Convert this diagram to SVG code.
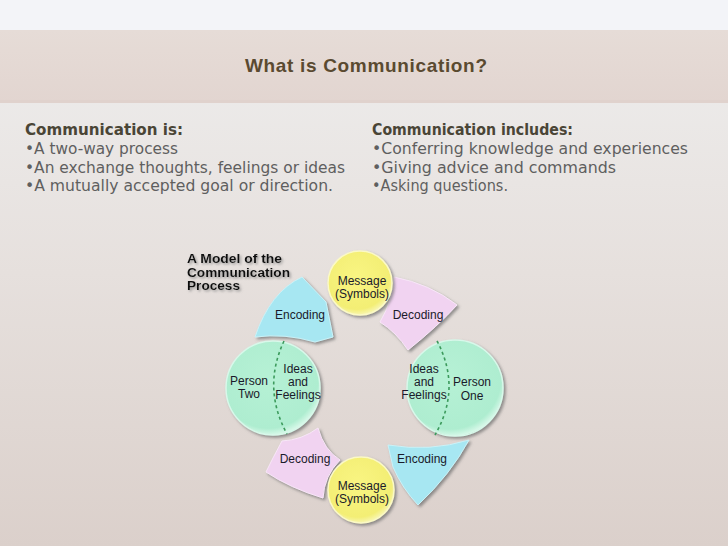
<svg xmlns="http://www.w3.org/2000/svg" width="728" height="546" viewBox="0 0 728 546">
<defs>
<linearGradient id="bg" x1="0" y1="0" x2="0" y2="1">
<stop offset="0" stop-color="#efefef"/>
<stop offset="0.5" stop-color="#e6e0dd"/>
<stop offset="1" stop-color="#dbd0cb"/>
</linearGradient>
<linearGradient id="band" x1="0" y1="0" x2="0" y2="1">
<stop offset="0" stop-color="#e6dcd7"/>
<stop offset="1" stop-color="#e2d5d0"/>
</linearGradient>
<radialGradient id="yel" cx="0.45" cy="0.4" r="0.6">
<stop offset="0" stop-color="#f9f582"/>
<stop offset="0.85" stop-color="#f3ee74"/>
<stop offset="1" stop-color="#f8f6b0"/>
</radialGradient>
<radialGradient id="mint" cx="0.45" cy="0.4" r="0.6">
<stop offset="0" stop-color="#b6f1d5"/>
<stop offset="0.88" stop-color="#aeedd0"/>
<stop offset="1" stop-color="#d6f8e8"/>
</radialGradient>
<filter id="sh" x="-20%" y="-20%" width="150%" height="150%">
<feDropShadow dx="2" dy="2" stdDeviation="1.6" flood-color="#6a6a6a" flood-opacity="0.7"/>
</filter>
<filter id="tsh" x="-10%" y="-10%" width="130%" height="140%">
<feDropShadow dx="1.5" dy="1.5" stdDeviation="0.8" flood-color="#888" flood-opacity="0.8"/>
</filter>
</defs>
<style>
.h{font-family:"DejaVu Sans","Liberation Sans",sans-serif;font-weight:bold;font-size:15px;fill:#4a4536}
.b{font-family:"DejaVu Sans","Liberation Sans",sans-serif;font-size:15px;fill:#5f5f5f}
.d{font-family:"Liberation Sans",Arial,sans-serif;font-size:12px;fill:#1a1a2a;text-anchor:middle}
.m{font-family:"Liberation Sans",Arial,sans-serif;font-weight:bold;font-size:12.5px;fill:#111}
.enc{fill:#a7e7f2;stroke:#c9f2f8;stroke-width:1}
.dec{fill:#f1d3f1;stroke:#f8e6f8;stroke-width:1}
.dash{fill:none;stroke:#3c9a5c;stroke-width:1.6;stroke-dasharray:3 3}
</style>

<rect x="0" y="0" width="728" height="546" fill="url(#bg)"/>
<rect x="0" y="0" width="728" height="30" fill="#f3f4f8"/>
<g id="header">
<rect x="0" y="30" width="728" height="73" fill="url(#band)"/>
<rect x="0" y="100" width="728" height="3" fill="#e0d2cd"/>
<text x="366" y="72" text-anchor="middle" font-family="Liberation Sans, Arial, sans-serif" font-weight="bold" font-size="19" fill="#5a4a30" textLength="242" lengthAdjust="spacing">What is Communication?</text>
</g>

<g id="text-left">
<text class="h" x="25" y="135" textLength="158" lengthAdjust="spacingAndGlyphs">Communication is:</text>
<text class="b" x="25" y="154" textLength="153" lengthAdjust="spacingAndGlyphs">•A two-way process</text>
<text class="b" x="25" y="172.5" textLength="320" lengthAdjust="spacingAndGlyphs">•An exchange thoughts, feelings or ideas</text>
<text class="b" x="25" y="191" textLength="308" lengthAdjust="spacingAndGlyphs">•A mutually accepted goal or direction.</text>
</g>

<g id="text-right">
<text class="h" x="372" y="135" textLength="201" lengthAdjust="spacingAndGlyphs">Communication includes:</text>
<text class="b" x="372" y="154" textLength="316" lengthAdjust="spacingAndGlyphs">•Conferring knowledge and experiences</text>
<text class="b" x="372" y="172.5" textLength="244" lengthAdjust="spacingAndGlyphs">•Giving advice and commands</text>
<text class="b" x="372" y="191" textLength="136" lengthAdjust="spacingAndGlyphs">•Asking questions.</text>
</g>

<g id="model-title" filter="url(#tsh)">
<text class="m" x="187" y="263" textLength="95" lengthAdjust="spacingAndGlyphs">A Model of the</text>
<text class="m" x="187" y="276.5" textLength="103" lengthAdjust="spacingAndGlyphs">Communication</text>
<text class="m" x="187" y="290" textLength="53" lengthAdjust="spacingAndGlyphs">Process</text>
</g>

<g id="connectors">
<g id="encoding-top">
<path class="enc" filter="url(#sh)" d="M255,337 Q270,292 302,277 L326,302 L333,337 L315,342 Q285,333 255,337 Z"/>
<text class="d" x="300" y="319">Encoding</text>
</g>
<g id="decoding-top">
<path class="dec" filter="url(#sh)" d="M394,277 Q430,284 457,305 Q438,326 408,350 Q396,332 380,322 Q393,300 394,277 Z"/>
<text class="d" x="418" y="319">Decoding</text>
</g>
<g id="decoding-bottom">
<path class="dec" filter="url(#sh)" d="M318,428 Q324,450 340,460 Q324,476 323,498 Q290,488 266,472 L273,458 L282,441 Q302,440 318,428 Z"/>
<text class="d" x="305" y="463">Decoding</text>
</g>
<g id="encoding-bottom">
<path class="enc" filter="url(#sh)" d="M388,445 Q430,452 469,440 Q450,475 418,505 Q402,488 393,467 Z"/>
<text class="d" x="422" y="463">Encoding</text>
</g>
</g>

<g id="message-top">
<circle cx="360" cy="283" r="32" fill="url(#yel)" stroke="#fbf9c6" stroke-width="1.5" filter="url(#sh)"/>
<text class="d" x="362" y="285">Message</text>
<text class="d" x="362" y="298">(Symbols)</text>
</g>

<g id="person-two">
<circle cx="273" cy="388" r="47" fill="url(#mint)" stroke="#d8f8ea" stroke-width="1.5" filter="url(#sh)"/>
<path class="dash" d="M284,341 Q262,388 287,434"/>
<text class="d" x="249" y="385">Person</text>
<text class="d" x="249" y="398">Two</text>
<text class="d" x="298" y="373">Ideas</text>
<text class="d" x="298" y="386">and</text>
<text class="d" x="298" y="399">Feelings</text>
</g>

<g id="person-one">
<circle cx="455" cy="388" r="48" fill="url(#mint)" stroke="#d8f8ea" stroke-width="1.5" filter="url(#sh)"/>
<path class="dash" d="M437,341 Q462,388 435,435"/>
<text class="d" x="424" y="373">Ideas</text>
<text class="d" x="424" y="386">and</text>
<text class="d" x="424" y="399">Feelings</text>
<text class="d" x="472" y="386">Person</text>
<text class="d" x="472" y="400">One</text>
</g>

<g id="message-bottom">
<circle cx="361" cy="490" r="33" fill="url(#yel)" stroke="#fbf9c6" stroke-width="1.5" filter="url(#sh)"/>
<text class="d" x="362" y="490">Message</text>
<text class="d" x="362" y="503">(Symbols)</text>
</g>
</svg>
